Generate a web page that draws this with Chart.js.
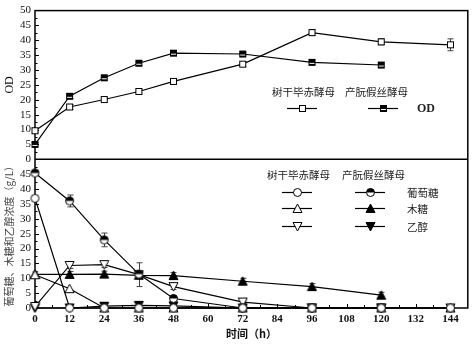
<!DOCTYPE html>
<html lang="zh">
<head>
<meta charset="UTF-8">
<title>OD 与 葡萄糖、木糖、乙醇浓度</title>
<script src="https://cdn.jsdelivr.net/npm/chart.js"></script>
<style>
  html, body { margin: 0; padding: 0; background: #fff; }
</style>
</head>
<body>
<canvas id="grafico" width="474" height="346"></canvas>
<script>
// tiempos (h)
const hours = [0, 12, 24, 36, 48, 72, 96, 120, 144];
const hoursB = [0, 12, 24, 36, 48, 72, 96, 120];
const xTicks = [0, 12, 24, 36, 48, 60, 72, 84, 96, 108, 120, 132, 144];

// OD
const odA = [9.6, 17.6, 20.1, 22.8, 26.2, 32.0, 42.6, 39.5, 38.5];   // 树干毕赤酵母
const odB = [5.0, 21.2, 27.4, 32.3, 35.7, 35.4, 32.6, 31.7];         // 产朊假丝酵母
const odAErr = [0.6, 0.8, 0.8, 0.8, 0.8, 0.8, 1.0, 1.0, 2.0];
const odBErr = [0.5, 0.8, 0.8, 0.8, 0.6, 0.6, 0.8, 0.8];

// concentraciones (g/L)
const gluA = [36.9, 0, 0, 0, 0, 0, 0, 0, 0];
const gluB = [45.4, 36.0, 22.9, 11.4, 3.2, 0, 0, 0];
const xylA = [11.2, 6.5, 0, 0, 0, 0, 0, 0, 0];
const xylB = [11.3, 11.3, 11.4, 11.0, 10.9, 9.0, 7.2, 4.3];
const ethA = [0.5, 14.3, 14.6, 11.2, 7.2, 2.0, 0, 0, 0];
const ethB = [0, 0, 0.6, 0.9, 0.7, 0, 0, 0];
const gluBErr = [0.8, 2.0, 2.3, 0.8, 0.8, 0, 0, 0];
const ethAErr = [0.5, 1.0, 1.0, 4.0, 1.0, 0.5, 0, 0, 0];
const xylBErr = [0.8, 1.0, 1.0, 0.5, 1.0, 1.0, 1.0, 1.0];

const yeastA = '树干毕赤酵母';
const yeastB = '产朊假丝酵母';
const subs = ['葡萄糖', '木糖', '乙醇'];

const SERIF = '"Liberation Serif", "Noto Sans CJK SC", serif';
const CJK = '"Noto Sans CJK SC", sans-serif';

// marcadores
function mk(size, draw) {
  const c = document.createElement('canvas');
  c.width = size; c.height = size;
  const g = c.getContext('2d');
  g.lineWidth = 1; g.strokeStyle = '#000'; g.fillStyle = '#fff';
  draw(g, size);
  return c;
}
const mSqOpen = mk(9, (g) => { g.fillRect(1, 1, 7, 7); g.strokeRect(1.5, 1.5, 6, 6); });
const mSqFill = mk(9, (g) => { g.fillStyle = '#000'; g.fillRect(1, 1, 7, 7); g.fillStyle = '#fff'; g.fillRect(2, 5, 5, 1); });
const mCirOpen = mk(11, (g) => { g.beginPath(); g.arc(5.5, 5.5, 4, 0, Math.PI * 2); g.fill(); g.stroke(); });
const mCirHalf = mk(11, (g) => {
  g.beginPath(); g.arc(5.5, 5.5, 4, 0, Math.PI * 2); g.fill();
  g.fillStyle = '#000'; g.beginPath(); g.arc(5.5, 5.5, 4, Math.PI, 0); g.fill();
  g.beginPath(); g.arc(5.5, 5.5, 4, 0, Math.PI * 2); g.stroke();
});
function tri(g, up, fill) {
  g.beginPath();
  if (up) { g.moveTo(5.5, 1); g.lineTo(10, 9.5); g.lineTo(1, 9.5); }
  else { g.moveTo(5.5, 10); g.lineTo(10, 1.5); g.lineTo(1, 1.5); }
  g.closePath();
  g.fillStyle = fill ? '#000' : '#fff'; g.fill(); g.stroke();
}
const mTriUpOpen = mk(11, (g) => tri(g, true, false));
const mTriUpFill = mk(11, (g) => tri(g, true, true));
const mTriDnOpen = mk(11, (g) => tri(g, false, false));
const mTriDnFill = mk(11, (g) => tri(g, false, true));

function pts(xs, ys) { return ys.map((v, i) => ({ x: xs[i], y: v })); }

function serie(label, xs, ys, marker, axis, err) {
  return {
    label: label,
    data: pts(xs, ys),
    yAxisID: axis,
    borderColor: '#000',
    borderWidth: 1.2,
    pointStyle: marker,
    pointRadius: 5,
    pointHoverRadius: 5,
    fill: false,
    tension: 0,
    clip: false,
    err: err || null
  };
}

const frame = {
  id: 'frame',
  beforeDatasetsDraw(chart) {
    const { ctx, chartArea: a } = chart;
    const yOD = chart.scales.yOD;
    ctx.save();
    ctx.strokeStyle = '#000';
    ctx.lineWidth = 1.5;
    ctx.strokeRect(a.left, a.top, a.right - a.left, a.bottom - a.top);
    const yd = yOD.getPixelForValue(0);
    ctx.beginPath(); ctx.moveTo(a.left, yd); ctx.lineTo(a.right, yd); ctx.stroke();
    // ticks hacia dentro
    ctx.lineWidth = 1;
    [chart.scales.yOD, chart.scales.yC].forEach(s => {
      for (let v = 0; v < 50; v += 2.5) {
        const y = Math.round(s.getPixelForValue(v)) + 0.5;
        const len = v % 5 === 0 ? 4 : 2.5;
        ctx.beginPath(); ctx.moveTo(a.left, y); ctx.lineTo(a.left + len, y); ctx.stroke();
      }
    });
    const xs = chart.scales.x;
    for (let h = 0; h <= 144; h += 6) {
      const px = Math.round(xs.getPixelForValue(h)) + 0.5;
      const len = h % 12 === 0 ? 4 : 3;
      ctx.beginPath(); ctx.moveTo(px, a.bottom); ctx.lineTo(px, a.bottom - len); ctx.stroke();
    }
    // barras de error
    ctx.strokeStyle = '#444';
    chart.data.datasets.forEach(ds => {
      if (!ds.err) return;
      const ys = chart.scales[ds.yAxisID];
      ds.data.forEach((p, i) => {
        const e = ds.err[i];
        if (!e) return;
        const px = Math.round(xs.getPixelForValue(p.x)) + 0.5;
        const y1 = ys.getPixelForValue(p.y + e);
        const y2 = ys.getPixelForValue(Math.max(p.y - e, 0));
        ctx.beginPath();
        ctx.moveTo(px, y1); ctx.lineTo(px, y2);
        ctx.moveTo(px - 3, y1); ctx.lineTo(px + 3, y1);
        ctx.moveTo(px - 3, y2); ctx.lineTo(px + 3, y2);
        ctx.stroke();
      });
    });
    ctx.restore();
  }
};

function legendLine(ctx, x1, y, marker) {
  ctx.beginPath(); ctx.moveTo(x1, y + 0.5); ctx.lineTo(x1 + 30, y + 0.5); ctx.stroke();
  ctx.drawImage(marker, Math.round(x1 + 15 - marker.width / 2), Math.round(y - marker.height / 2));
}

const leyenda = {
  id: 'leyenda',
  afterDraw(chart) {
    const ctx = chart.ctx;
    ctx.save();
    ctx.fillStyle = '#222';
    ctx.strokeStyle = '#000';
    ctx.lineWidth = 1.2;
    ctx.textBaseline = 'middle';
    ctx.textAlign = 'left';
    // OD
    ctx.font = '10.5px ' + CJK;
    ctx.fillText(yeastA, 272, 92);
    ctx.fillText(yeastB, 345, 92);
    legendLine(ctx, 287, 108, mSqOpen);
    legendLine(ctx, 368, 108, mSqFill);
    ctx.font = 'bold 12px ' + SERIF;
    ctx.fillText('OD', 417, 109);
    // concentraciones
    ctx.font = '10.5px ' + CJK;
    ctx.fillText(yeastA, 267, 175);
    ctx.fillText(yeastB, 342, 175);
    const rows = [[mCirOpen, mCirHalf], [mTriUpOpen, mTriUpFill], [mTriDnOpen, mTriDnFill]];
    const ry = [192, 208, 226];
    rows.forEach((r, i) => {
      legendLine(ctx, 282, ry[i], r[0]);
      legendLine(ctx, 355, ry[i], r[1]);
      ctx.fillText(subs[i], 407, ry[i] + 1);
    });
    ctx.restore();
  }
};

const tickFont = { family: SERIF, size: 11 };

new Chart(document.getElementById('grafico').getContext('2d'), {
  type: 'line',
  data: {
    datasets: [
      serie(yeastA + ' OD', hours, odA, mSqOpen, 'yOD', odAErr),
      serie(yeastB + ' OD', hoursB, odB, mSqFill, 'yOD', odBErr),
      serie(yeastA + subs[0], hours, gluA, mCirOpen, 'yC'),
      serie(yeastB + subs[0], hoursB, gluB, mCirHalf, 'yC', gluBErr),
      serie(yeastA + subs[1], hours, xylA, mTriUpOpen, 'yC'),
      serie(yeastB + subs[1], hoursB, xylB, mTriUpFill, 'yC', xylBErr),
      serie(yeastA + subs[2], hours, ethA, mTriDnOpen, 'yC', ethAErr),
      serie(yeastB + subs[2], hoursB, ethB, mTriDnFill, 'yC')
    ]
  },
  options: {
    responsive: false,
    animation: false,
    layout: { padding: { top: 6, right: 3, left: 0, bottom: 0 } },
    plugins: { legend: { display: false }, tooltip: { enabled: false } },
    scales: {
      x: {
        type: 'linear',
        min: 0, max: 150,
        afterBuildTicks: (s) => { s.ticks = xTicks.map(v => ({ value: v })); },
        afterFit: (s) => { s.height = 38; },
        grid: { display: false, drawTicks: false },
        border: { display: false },
        ticks: { color: '#111', font: { family: SERIF, size: 11, weight: 'bold' }, padding: 5, maxRotation: 0, autoSkip: false },
        title: { display: true, text: '时间（h）', color: '#111', font: { family: CJK, size: 11, weight: 'bold' }, padding: { top: 0, bottom: 6 } }
      },
      // con position 'left' el último eje apilado queda arriba
      yC: {
        position: 'left', stack: 'panel', stackWeight: 1,
        min: 0, max: 50,
        afterFit: (s) => { s.width = 35; },
        grid: { display: false, drawTicks: false },
        border: { display: false },
        ticks: { stepSize: 5, autoSkip: false, color: '#111', font: tickFont, padding: 4, callback: (v) => v >= 50 ? '' : v },
        title: { display: true, text: '葡萄糖、木糖和乙醇浓度（g/L）', color: '#444', font: { family: CJK, size: 10 }, padding: { top: 3, bottom: 0 } }
      },
      yOD: {
        position: 'left', stack: 'panel', stackWeight: 1,
        min: 0, max: 50,
        afterFit: (s) => { s.width = 35; },
        grid: { display: false, drawTicks: false },
        border: { display: false },
        ticks: { stepSize: 5, autoSkip: false, color: '#111', font: tickFont, padding: 4 },
        title: { display: true, text: 'OD', color: '#111', font: { family: SERIF, size: 12 }, padding: { top: 3, bottom: 0 } }
      }
    }
  },
  plugins: [frame, leyenda]
});
</script>
</body>
</html>
